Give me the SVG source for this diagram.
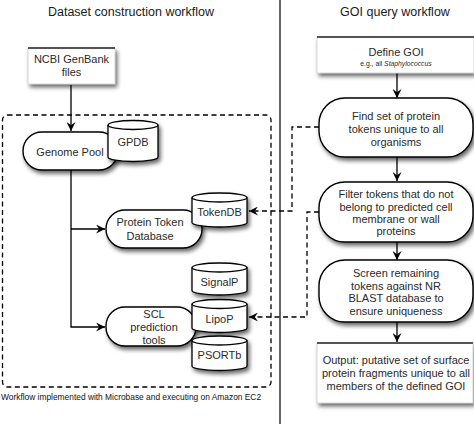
<svg xmlns="http://www.w3.org/2000/svg" width="474" height="424" viewBox="0 0 474 424">
<defs>
<filter id="sh" x="-20%" y="-20%" width="140%" height="150%">
<feDropShadow dx="2" dy="3" stdDeviation="2.2" flood-color="#000" flood-opacity="0.6"/>
</filter>
<marker id="ah" viewBox="0 0 10 10" refX="10" refY="5" markerWidth="9" markerHeight="9" markerUnits="userSpaceOnUse" orient="auto">
<path d="M0,0 L10,5 L0,10 L3.5,5 z" fill="#000"/>
</marker>
</defs>
<style>
text{font-family:"Liberation Sans",Arial,sans-serif;fill:#2a2a2a;text-anchor:middle}
.t{font-size:12.5px;fill:#1a1a1a}
.n{font-size:11px}
.s{font-size:6.8px}
.cap{font-size:8.4px;text-anchor:start;fill:#111}
.shape{fill:#fff;stroke:#000;stroke-width:1.4;filter:url(#sh)}
.box{fill:#fff;stroke:#bbb;stroke-width:0.6;filter:url(#sh)}
.top{stroke:#222;stroke-width:1.5}
.cyl{fill:#fff;stroke:#000;stroke-width:1.3}
.c{fill:none;stroke:#000;stroke-width:1.3}
.d{fill:none;stroke:#000;stroke-width:1.3;stroke-dasharray:5,3.5}
</style>

<line x1="280" y1="0" x2="280" y2="424" stroke="#333" stroke-width="1.5"/>
<text class="t" x="131" y="16">Dataset construction workflow</text>
<text class="t" x="395" y="16">GOI query workflow</text>

<rect x="2.5" y="115" width="268.5" height="272" rx="5" class="d"/>
<text class="cap" x="1" y="400">Workflow implemented with Microbase and executing on Amazon EC2</text>

<g id="connectors">
<path class="c" d="M71,85 L71,131" marker-end="url(#ah)"/>
<path class="c" d="M71,170 L71,327 L105,327" marker-end="url(#ah)"/>
<path class="c" d="M71,229 L105,229" marker-end="url(#ah)"/>
<path class="c" d="M397,73 L397,98" marker-end="url(#ah)"/>
<path class="c" d="M397,157 L397,181" marker-end="url(#ah)"/>
<path class="c" d="M397,242 L397,260" marker-end="url(#ah)"/>
<path class="c" d="M397,322 L397,342" marker-end="url(#ah)"/>
<path class="d" d="M319,127 L292,127 L292,211 L249,211" marker-end="url(#ah)"/>
<path class="d" d="M319,212 L307,212 L307,317 L249,317" marker-end="url(#ah)"/>
</g>

<g id="ncbi">
<rect class="box" x="28" y="48" width="87" height="36"/>
<line class="top" x1="28" y1="48" x2="115" y2="48"/>
<text class="n" x="71.5" y="63">NCBI GenBank</text>
<text class="n" x="71.5" y="76">files</text>
</g>

<g id="genomepool">
<rect class="shape" x="23" y="132" width="95" height="38" rx="19"/>
<text class="n" x="70" y="156">Genome Pool</text>
</g>
<g id="gpdb">
<path class="cyl" filter="url(#sh)" d="M108,125 L108,157 A25,4.5 0 0 0 158,157 L158,125 A25,4.5 0 0 0 108,125 Z"/>
<path class="c" d="M108,125 A25,4.5 0 0 0 158,125"/>
<text class="n" x="133" y="146">GPDB</text>
</g>

<g id="ptdb">
<rect class="shape" x="106" y="210" width="96" height="38" rx="19"/>
<text class="n" x="150" y="226">Protein Token</text>
<text class="n" x="150" y="240">Database</text>
</g>
<g id="tokendb">
<path class="cyl" filter="url(#sh)" d="M192,197.5 L192,222.5 A27.5,4.5 0 0 0 247,222.5 L247,197.5 A27.5,4.5 0 0 0 192,197.5 Z"/>
<path class="c" d="M192,197.5 A27.5,4.5 0 0 0 247,197.5"/>
<text class="n" x="219.5" y="216">TokenDB</text>
</g>

<g id="scl">
<rect class="shape" x="106" y="307" width="90" height="39" rx="19"/>
<text class="n" x="154" y="318">SCL</text>
<text class="n" x="154" y="331">prediction</text>
<text class="n" x="154" y="344">tools</text>
</g>
<g id="signalp">
<path class="cyl" filter="url(#sh)" d="M192,267.5 L192,290.5 A27.5,4.5 0 0 0 247,290.5 L247,267.5 A27.5,4.5 0 0 0 192,267.5 Z"/>
<path class="c" d="M192,267.5 A27.5,4.5 0 0 0 247,267.5"/>
<text class="n" x="219.5" y="286">SignalP</text>
</g>
<g id="lipop">
<path class="cyl" filter="url(#sh)" d="M192,304 L192,328 A27.5,4.5 0 0 0 247,328 L247,304 A27.5,4.5 0 0 0 192,304 Z"/>
<path class="c" d="M192,304 A27.5,4.5 0 0 0 247,304"/>
<text class="n" x="219.5" y="323">LipoP</text>
</g>
<g id="psortb">
<path class="cyl" filter="url(#sh)" d="M192,340.5 L192,366 A27.5,4.5 0 0 0 247,366 L247,340.5 A27.5,4.5 0 0 0 192,340.5 Z"/>
<path class="c" d="M192,340.5 A27.5,4.5 0 0 0 247,340.5"/>
<text class="n" x="219.5" y="359">PSORTb</text>
</g>

<g id="definegoi">
<rect class="box" x="317" y="37" width="157" height="36"/>
<line class="top" x1="317" y1="37" x2="474" y2="37"/>
<text class="n" x="396" y="56">Define GOI</text>
<text class="s" x="396" y="66">e.g., all <tspan font-style="italic">Staphylococcus</tspan></text>
</g>

<g id="findset">
<rect class="shape" x="319" y="98" width="154" height="59" rx="26"/>
<text class="n" x="396" y="120">Find set of protein</text>
<text class="n" x="396" y="133">tokens unique to all</text>
<text class="n" x="396" y="146">organisms</text>
</g>

<g id="filter">
<rect class="shape" x="319" y="182" width="154" height="60" rx="26"/>
<text class="n" x="396" y="198">Filter tokens that do not</text>
<text class="n" x="396" y="211">belong to predicted cell</text>
<text class="n" x="396" y="223">membrane or wall</text>
<text class="n" x="396" y="235">proteins</text>
</g>

<g id="screen">
<rect class="shape" x="319" y="260" width="154" height="62" rx="26"/>
<text class="n" x="396" y="277">Screen remaining</text>
<text class="n" x="396" y="290">tokens against NR</text>
<text class="n" x="396" y="302">BLAST database to</text>
<text class="n" x="396" y="315">ensure uniqueness</text>
</g>

<g id="output">
<rect class="box" x="317" y="343" width="156" height="60"/>
<line class="top" x1="317" y1="343" x2="473" y2="343"/>
<text class="n" x="396" y="364">Output: putative set of surface</text>
<text class="n" x="396" y="377">protein fragments unique to all</text>
<text class="n" x="396" y="390">members of the defined GOI</text>
</g>
</svg>
